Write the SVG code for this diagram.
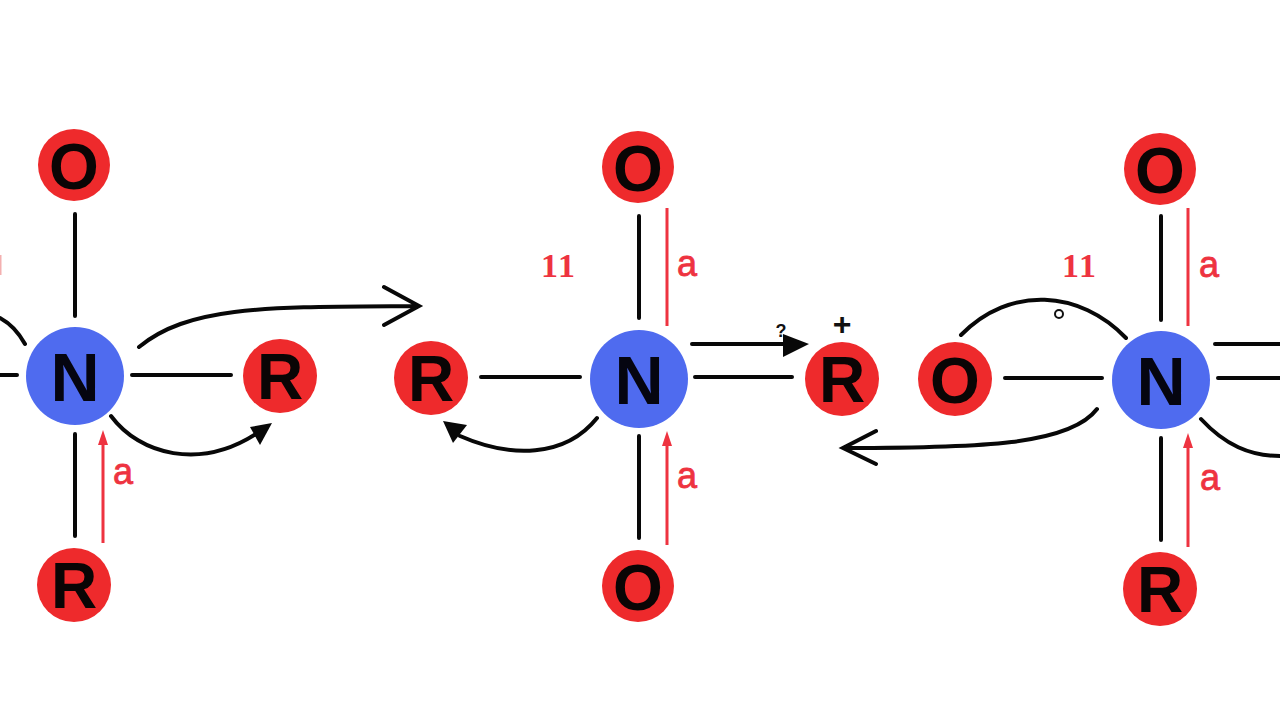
<svg xmlns="http://www.w3.org/2000/svg" width="1280" height="720" viewBox="0 0 1280 720">
<style>
.n circle{fill:#4f6bef}
.r circle{fill:#ee2a2c}
text{font-family:"Liberation Sans",Arial,sans-serif;font-weight:700;text-anchor:middle}
.n text{font-size:68px;fill:#050510}
.r text{font-size:64px;fill:#0a0505}
.l{fill:#ee3340;font-size:36px;font-weight:400;stroke:#ee3340;stroke-width:.8}
.e{fill:#ee3340;font-family:"Liberation Serif",serif;font-size:34px;letter-spacing:2px}
.k{stroke:#080808;stroke-width:4;fill:none;stroke-linecap:round}
.h{stroke:#ee3340;stroke-width:3;fill:none}
</style>
<rect width="1280" height="720" fill="#fff"/>
<g id="connectors">
<path class="k" d="M75 214V316M75 434V536M0 375H17M132 375H231M0 318Q15 326 25 344"/>
<path class="k" d="M139 347C190 305 270 307 415 306M384 287L419 306L384 325"/>
<path class="k" d="M111 416C140 455 200 470 256 434"/>
<path d="M272 423L250 427L260 445Z" fill="#080808"/>
<path class="k" d="M639 216V318M639 436V538M481 377H580M695 377H792M692 344H790"/>
<path d="M809 344L783 334V357Z" fill="#080808"/>
<path class="k" d="M597 418C565 458 510 458 460 436"/>
<path d="M443 421L467 425L453 443Z" fill="#080808"/>
<path class="k" d="M1161 216V320M1161 438V540M1005 378H1102M1215 344H1280M1218 378H1280"/>
<path class="k" d="M961 335C1010 285 1080 290 1126 338"/>
<path class="k" d="M1097 409C1070 445 980 448 845 448M876 431L843 448L876 464"/>
<path class="k" d="M1201 419C1225 445 1250 456 1280 456"/>
<circle cx="1059" cy="314" r="4" fill="none" stroke="#111" stroke-width="2"/>
<path class="h" d="M103 543V440M667 545V440M667 208V326M1188 547V440M1188 208V326"/>
<path d="M103 430L98 445H108ZM667 431L662 446H672ZM1188 433L1183 448H1193Z" fill="#ee3340"/>
</g>
<g id="n1" class="n"><circle cx="75" cy="376" r="49"/><text x="75" y="401">N</text></g>
<g id="n2" class="n"><circle cx="639" cy="379" r="49"/><text x="639" y="404">N</text></g>
<g id="n3" class="n"><circle cx="1161" cy="380" r="49"/><text x="1161" y="405">N</text></g>
<g id="o1" class="r"><circle cx="74" cy="165" r="36"/><text x="74" y="189">O</text></g>
<g id="r1" class="r"><circle cx="74" cy="585" r="37"/><text x="74" y="608">R</text></g>
<g id="r2" class="r"><circle cx="280" cy="376" r="37"/><text x="280" y="399">R</text></g>
<g id="r3" class="r"><circle cx="431" cy="378" r="37"/><text x="431" y="401">R</text></g>
<g id="o2" class="r"><circle cx="638" cy="167" r="36"/><text x="638" y="191">O</text></g>
<g id="o3" class="r"><circle cx="638" cy="586" r="36"/><text x="638" y="610">O</text></g>
<g id="r4" class="r"><circle cx="842" cy="379" r="37"/><text x="842" y="402">R</text></g>
<g id="o4" class="r"><circle cx="955" cy="379" r="37"/><text x="955" y="403">O</text></g>
<g id="o5" class="r"><circle cx="1160" cy="169" r="36"/><text x="1160" y="193">O</text></g>
<g id="r5" class="r"><circle cx="1160" cy="589" r="37"/><text x="1160" y="612">R</text></g>
<g id="labels">
<text class="l" x="123" y="484">a</text>
<text class="l" x="687" y="276">a</text>
<text class="l" x="687" y="488">a</text>
<text class="l" x="1209" y="277">a</text>
<text class="l" x="1210" y="490">a</text>
<text class="e" x="559" y="277">11</text>
<text class="e" x="1080" y="277">11</text>
<text x="842" y="335" style="font-size:32px" fill="#111">+</text>
<text x="781" y="337" style="font-size:18px" fill="#111">?</text>
</g>
<path id="edge-mark" d="M0 255V275" stroke="#f3b0b0" stroke-width="3" fill="none"/>
</svg>
